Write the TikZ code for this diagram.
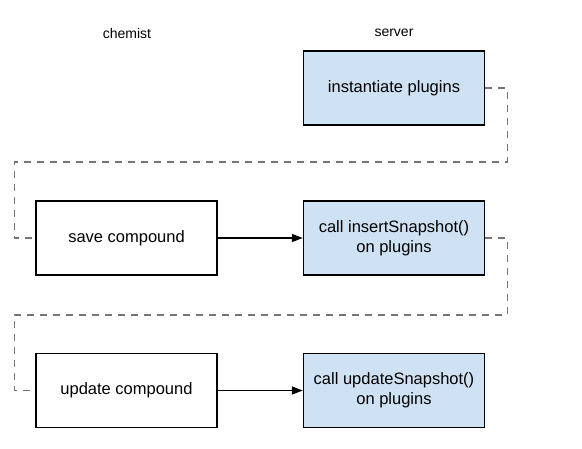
\documentclass[tikz,border=0pt]{standalone}
\usepackage{fontspec}
\setmainfont{Liberation Sans}
\usetikzlibrary{arrows.meta}
\definecolor{plugblue}{HTML}{CFE2F3}
\definecolor{linkgray}{HTML}{757575}
\begin{document}
\begin{tikzpicture}[x=1pt, y=-1pt, shorten >=0pt, line width=1.4pt,
  lane/.style={font=\fontsize{14}{17}\selectfont},
  chem node/.style={rectangle, draw, fill=white, minimum width=181pt, minimum height=74pt, align=center, font=\fontsize{16.5}{20}\selectfont},
  serv node/.style={chem node, fill=plugblue},
  flow/.style={-{Triangle[length=11pt,width=8pt]}},
  handoff/.style={draw=linkgray, line width=1.3pt, dash pattern=on 7pt off 6pt}]
\useasboundingbox (0,0) rectangle (582,448);
\node [lane](chemist) at (127,33) {chemist};
\node [lane](server) at (394,33) {server};
\node [serv node](inst) at (394,88) {instantiate plugins};
\node [chem node](save) at (126.5,238) {save compound};
\node [serv node](insert) at (394,238) {call insertSnapshot()\\on plugins};
\node [chem node](update) at (126.5,390.5) {update compound};
\node [serv node](upsnap) at (394,390.5) {call updateSnapshot()\\on plugins};
\path [flow]
	(save) edge (insert)
    (update) edge (upsnap)
         ;
\draw [handoff] (inst.east) -- ++(22,0) -- ++(0,74) -- ++(-493,0) |- (save.west);
\draw [handoff] (insert.east) -- ++(22,0) -- ++(0,77) -- ++(-493,0) |- (update.west);
\end{tikzpicture}
\end{document}
